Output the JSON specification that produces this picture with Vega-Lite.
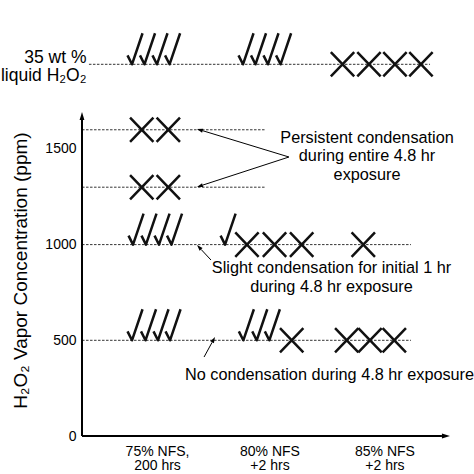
{
  "$schema": "https://vega.github.io/schema/vega-lite/v6.json",
  "width": 393,
  "height": 474,
  "autosize": {"type": "none"},
  "padding": {"left": 81, "top": 0, "right": 0, "bottom": 0},
  "background": "white",
  "config": {"view": {"stroke": null}, "font": "Liberation Sans"},
  "datasets": {
    "guides": [
      {"row": "35 wt % liquid", "level": 1942, "pos": 0.405, "pos_end": 3.41},
      {"row": "1600 ppm", "level": 1600, "pos": 0.344, "pos_end": 1.956},
      {"row": "1300 ppm", "level": 1300, "pos": 0.344, "pos_end": 1.956},
      {"row": "1000 ppm", "level": 1000, "pos": 0.344, "pos_end": 3.242},
      {"row": "500 ppm", "level": 500, "pos": 0.344, "pos_end": 3.242}
    ],
    "trials": [
      {"level": 1942, "pos": 0.784, "result": "pass"},
      {"level": 1942, "pos": 0.894, "result": "pass"},
      {"level": 1942, "pos": 1.004, "result": "pass"},
      {"level": 1942, "pos": 1.115, "result": "pass"},
      {"level": 1942, "pos": 1.762, "result": "pass"},
      {"level": 1942, "pos": 1.872, "result": "pass"},
      {"level": 1942, "pos": 1.982, "result": "pass"},
      {"level": 1942, "pos": 2.093, "result": "pass"},
      {"level": 1942, "pos": 2.639, "result": "fail"},
      {"level": 1942, "pos": 2.872, "result": "fail"},
      {"level": 1942, "pos": 3.101, "result": "fail"},
      {"level": 1942, "pos": 3.33, "result": "fail"},
      {"level": 1600, "pos": 0.87, "result": "fail"},
      {"level": 1600, "pos": 1.104, "result": "fail"},
      {"level": 1300, "pos": 0.87, "result": "fail"},
      {"level": 1300, "pos": 1.104, "result": "fail"},
      {"level": 1000, "pos": 0.793, "result": "pass"},
      {"level": 1000, "pos": 0.907, "result": "pass"},
      {"level": 1000, "pos": 1.022, "result": "pass"},
      {"level": 1000, "pos": 1.132, "result": "pass"},
      {"level": 1000, "pos": 1.604, "result": "pass"},
      {"level": 1000, "pos": 1.797, "result": "fail"},
      {"level": 1000, "pos": 2.04, "result": "fail"},
      {"level": 1000, "pos": 2.279, "result": "fail"},
      {"level": 1000, "pos": 2.822, "result": "fail"},
      {"level": 500, "pos": 0.784, "result": "pass"},
      {"level": 500, "pos": 0.903, "result": "pass"},
      {"level": 500, "pos": 1.013, "result": "pass"},
      {"level": 500, "pos": 1.119, "result": "pass"},
      {"level": 500, "pos": 1.765, "result": "pass"},
      {"level": 500, "pos": 1.883, "result": "pass"},
      {"level": 500, "pos": 1.994, "result": "pass"},
      {"level": 500, "pos": 2.191, "result": "fail"},
      {"level": 500, "pos": 2.676, "result": "fail"},
      {"level": 500, "pos": 2.881, "result": "fail"},
      {"level": 500, "pos": 3.095, "result": "fail"}
    ],
    "ticks": [
      {"level": 100}, {"level": 200}, {"level": 300}, {"level": 400},
      {"level": 500}, {"level": 600}, {"level": 700}, {"level": 800},
      {"level": 900}, {"level": 1000}, {"level": 1100}, {"level": 1200},
      {"level": 1300}, {"level": 1400}, {"level": 1500}, {"level": 1600}
    ],
    "arrows": [
      {"name": "y-axis", "kind": "axis", "pos_from": 0.3436, "level_from": 0, "pos": 0.3436, "level": 1651},
      {"name": "x-axis", "kind": "axis", "pos_from": 0.3436, "level_from": 0, "pos": 3.515, "level": 0},
      {"name": "to 1600", "kind": "callout", "pos_from": 2.167, "level_from": 1457.7, "pos": 1.407, "level": 1595.1},
      {"name": "to 1300", "kind": "callout", "pos_from": 2.167, "level_from": 1457.7, "pos": 1.407, "level": 1310.8},
      {"name": "to 1000", "kind": "callout", "pos_from": 1.48, "level_from": 919.5, "pos": 1.393, "level": 974.9},
      {"name": "to 500", "kind": "callout", "pos_from": 1.419, "level_from": 412.7, "pos": 1.49, "level": 489.6}
    ],
    "notes": [
      {"kind": "row", "label": "35 wt %\nliquid H\u2082O\u2082", "pos": 0.383, "level": 1950},
      {"kind": "callout", "label": "Persistent condensation\nduring  entire 4.8 hr\nexposure", "pos": 2.855, "level": 1532},
      {"kind": "callout", "label": "Slight condensation for initial 1 hr\nduring 4.8 hr exposure", "pos": 2.542, "level": 850},
      {"kind": "callout-left", "label": "No condensation during 4.8 hr exposure", "pos": 1.251, "level": 293},
      {"kind": "category", "label": "75% NFS,\n200 hrs", "pos": 1.009, "level": -104},
      {"kind": "category", "label": "80% NFS\n+2 hrs", "pos": 2.0, "level": -104},
      {"kind": "category", "label": "85% NFS\n+2 hrs", "pos": 3.013, "level": -104}
    ]
  },
  "encoding": {
    "x": {"field": "pos", "type": "quantitative", "scale": {"domain": [0.3348, 3.7974], "nice": false, "zero": false}, "axis": null},
    "y": {
      "field": "level", "type": "quantitative",
      "scale": {"domain": [-198.5, 2278], "nice": false, "zero": false},
      "title": "H\u2082O\u2082 Vapor Concentration (ppm)",
      "axis": {
        "values": [0, 500, 1000, 1500], "format": "d", "domain": false, "ticks": false, "tickSize": 0, "grid": false,
        "labelPadding": 5, "labelFontSize": 14, "labelColor": "black", "labelFont": "Liberation Sans",
        "titleFont": "Liberation Sans", "titleFontSize": 19, "titleFontWeight": "normal", "titleColor": "black",
        "titleX": -61, "titleY": 270, "titleAngle": 270, "titleAlign": "center", "titleBaseline": "middle"
      }
    }
  },
  "layer": [
    {
      "data": {"name": "guides"},
      "mark": {"type": "rule", "color": "#333", "strokeWidth": 1, "strokeDash": [2.5, 1.5]},
      "encoding": {"x2": {"field": "pos_end"}}
    },
    {
      "data": {"name": "ticks"},
      "mark": {"type": "rule", "color": "black", "strokeWidth": 1.5},
      "encoding": {"x": {"datum": 0.3436, "type": "quantitative"}, "x2": {"datum": 0.4317}}
    },
    {
      "data": {"name": "arrows"},
      "transform": [{"filter": "datum.kind === 'axis'"}],
      "mark": {"type": "rule", "color": "black", "strokeWidth": 2},
      "encoding": {"x2": {"field": "pos_from"}, "y2": {"field": "level_from"}}
    },
    {
      "data": {"name": "arrows"},
      "transform": [{"filter": "datum.kind === 'callout'"}],
      "mark": {"type": "rule", "color": "black", "strokeWidth": 1},
      "encoding": {"x2": {"field": "pos_from"}, "y2": {"field": "level_from"}}
    },
    {
      "data": {"name": "arrows"},
      "transform": [{"filter": "datum.name === 'y-axis'"}],
      "mark": {"type": "point", "shape": "M0,-2L-0.6,0L0.6,0Z", "size": 64, "filled": true, "color": "black", "opacity": 1, "strokeWidth": 0, "angle": 0}
    },
    {
      "data": {"name": "arrows"},
      "transform": [{"filter": "datum.name === 'x-axis'"}],
      "mark": {"type": "point", "shape": "M0,-2L-0.6,0L0.6,0Z", "size": 64, "filled": true, "color": "black", "opacity": 1, "strokeWidth": 0, "angle": 90}
    },
    {
      "data": {"name": "arrows"},
      "transform": [{"filter": "datum.name === 'to 1600'"}],
      "mark": {"type": "point", "shape": "M0,-2L-0.67,0L0.67,0Z", "size": 36, "filled": true, "color": "black", "opacity": 1, "strokeWidth": 0, "angle": 287}
    },
    {
      "data": {"name": "arrows"},
      "transform": [{"filter": "datum.name === 'to 1300'"}],
      "mark": {"type": "point", "shape": "M0,-2L-0.67,0L0.67,0Z", "size": 36, "filled": true, "color": "black", "opacity": 1, "strokeWidth": 0, "angle": 252}
    },
    {
      "data": {"name": "arrows"},
      "transform": [{"filter": "datum.name === 'to 1000'"}],
      "mark": {"type": "point", "shape": "M0,-2L-0.67,0L0.67,0Z", "size": 36, "filled": true, "color": "black", "opacity": 1, "strokeWidth": 0, "angle": 317}
    },
    {
      "data": {"name": "arrows"},
      "transform": [{"filter": "datum.name === 'to 500'"}],
      "mark": {"type": "point", "shape": "M0,-2L-0.67,0L0.67,0Z", "size": 36, "filled": true, "color": "black", "opacity": 1, "strokeWidth": 0, "angle": 29}
    },
    {
      "data": {"name": "trials"},
      "mark": {"type": "point", "filled": false, "size": 1024, "strokeWidth": 2.5, "color": "#111", "opacity": 1, "strokeJoin": "round", "strokeCap": "butt"},
      "encoding": {
        "shape": {
          "field": "result", "type": "nominal",
          "scale": {"domain": ["pass", "fail"], "range": ["M-0.28,-0.56L0,0L0.66,-1.94", "M-0.73,-0.76L0.73,0.76M-0.73,0.76L0.73,-0.76"]},
          "legend": null
        }
      }
    },
    {
      "data": {"name": "notes"},
      "transform": [{"filter": "datum.kind === 'row'"}],
      "mark": {"type": "text", "align": "right", "baseline": "alphabetic", "fontSize": 17.5, "lineHeight": 18.5, "lineBreak": "\n", "font": "Liberation Sans", "color": "black"},
      "encoding": {"text": {"field": "label"}}
    },
    {
      "data": {"name": "notes"},
      "transform": [{"filter": "datum.kind === 'callout'"}],
      "mark": {"type": "text", "align": "center", "baseline": "alphabetic", "fontSize": 16.25, "lineHeight": 18.5, "lineBreak": "\n", "font": "Liberation Sans", "color": "black"},
      "encoding": {"text": {"field": "label"}}
    },
    {
      "data": {"name": "notes"},
      "transform": [{"filter": "datum.kind === 'callout-left'"}],
      "mark": {"type": "text", "align": "left", "baseline": "alphabetic", "fontSize": 16.25, "font": "Liberation Sans", "color": "black"},
      "encoding": {"text": {"field": "label"}}
    },
    {
      "data": {"name": "notes"},
      "transform": [{"filter": "datum.kind === 'category'"}],
      "mark": {"type": "text", "align": "center", "baseline": "alphabetic", "fontSize": 14, "lineHeight": 14.5, "lineBreak": "\n", "font": "Liberation Sans", "color": "black"},
      "encoding": {"text": {"field": "label"}}
    }
  ]
}
